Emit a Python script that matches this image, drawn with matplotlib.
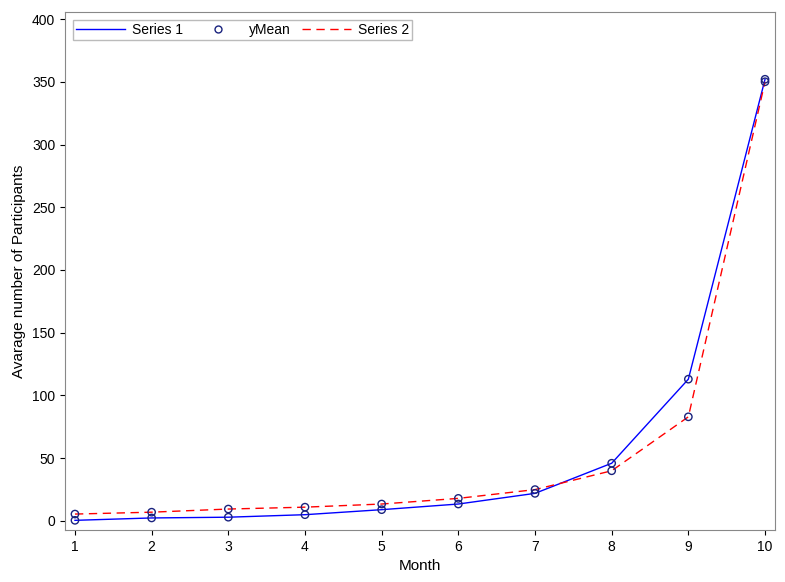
import matplotlib
matplotlib.use("Agg")
import matplotlib.pyplot as plt
from matplotlib.lines import Line2D

plt.rcParams['font.family'] = ['Liberation Sans', 'DejaVu Sans']

months = [1, 2, 3, 4, 5, 6, 7, 8, 9, 10]
series1 = [0.5, 2.4, 3, 5, 9, 13.5, 22, 46, 113, 352]
series2 = [5.5, 7, 9.5, 11, 13.5, 18, 25, 40, 83, 350]
yticks = [0, 50, 100, 150, 200, 250, 300, 350, 400]

fig = plt.figure(figsize=(7.85, 5.82), dpi=100)
ax = fig.add_axes([65/785, 1-530/582, 710/785, 518/582])
ax.plot(months, series1, color='blue', lw=1)
ax.plot(months, series2, color='red', lw=1, ls=(0, (6, 4)))
ax.scatter(months + months, series1 + series2, s=28, facecolors='none', edgecolors='#1a237e', lw=1, zorder=3)
ax.set_xlim(0.87, 10.13)
ax.set_ylim(-7.2, 405.6)
ax.set_xticks(months)
ax.set_yticks(yticks)
ax.tick_params(labelsize=10, colors='black')
for s in ax.spines.values():
    s.set_color('#888888')
ax.set_xlabel('Month', fontsize=11)
ax.set_ylabel('Avarage number of Participants', fontsize=11)
handles = [Line2D([], [], color='blue', lw=1),
           Line2D([], [], marker='o', ls='none', mfc='none', mec='#1a237e', ms=5),
           Line2D([], [], color='red', lw=1, ls=(0, (6, 4)))]
ax.legend(handles, ['Series 1', 'yMean', 'Series 2'], loc='upper left', ncol=3,
          fontsize=10, frameon=True, fancybox=False, edgecolor='#aaaaaa',
          borderaxespad=0.6, handlelength=3.5, handletextpad=0.5,
          columnspacing=0.8, borderpad=0.2)
fig.savefig('out.png', dpi=100)
